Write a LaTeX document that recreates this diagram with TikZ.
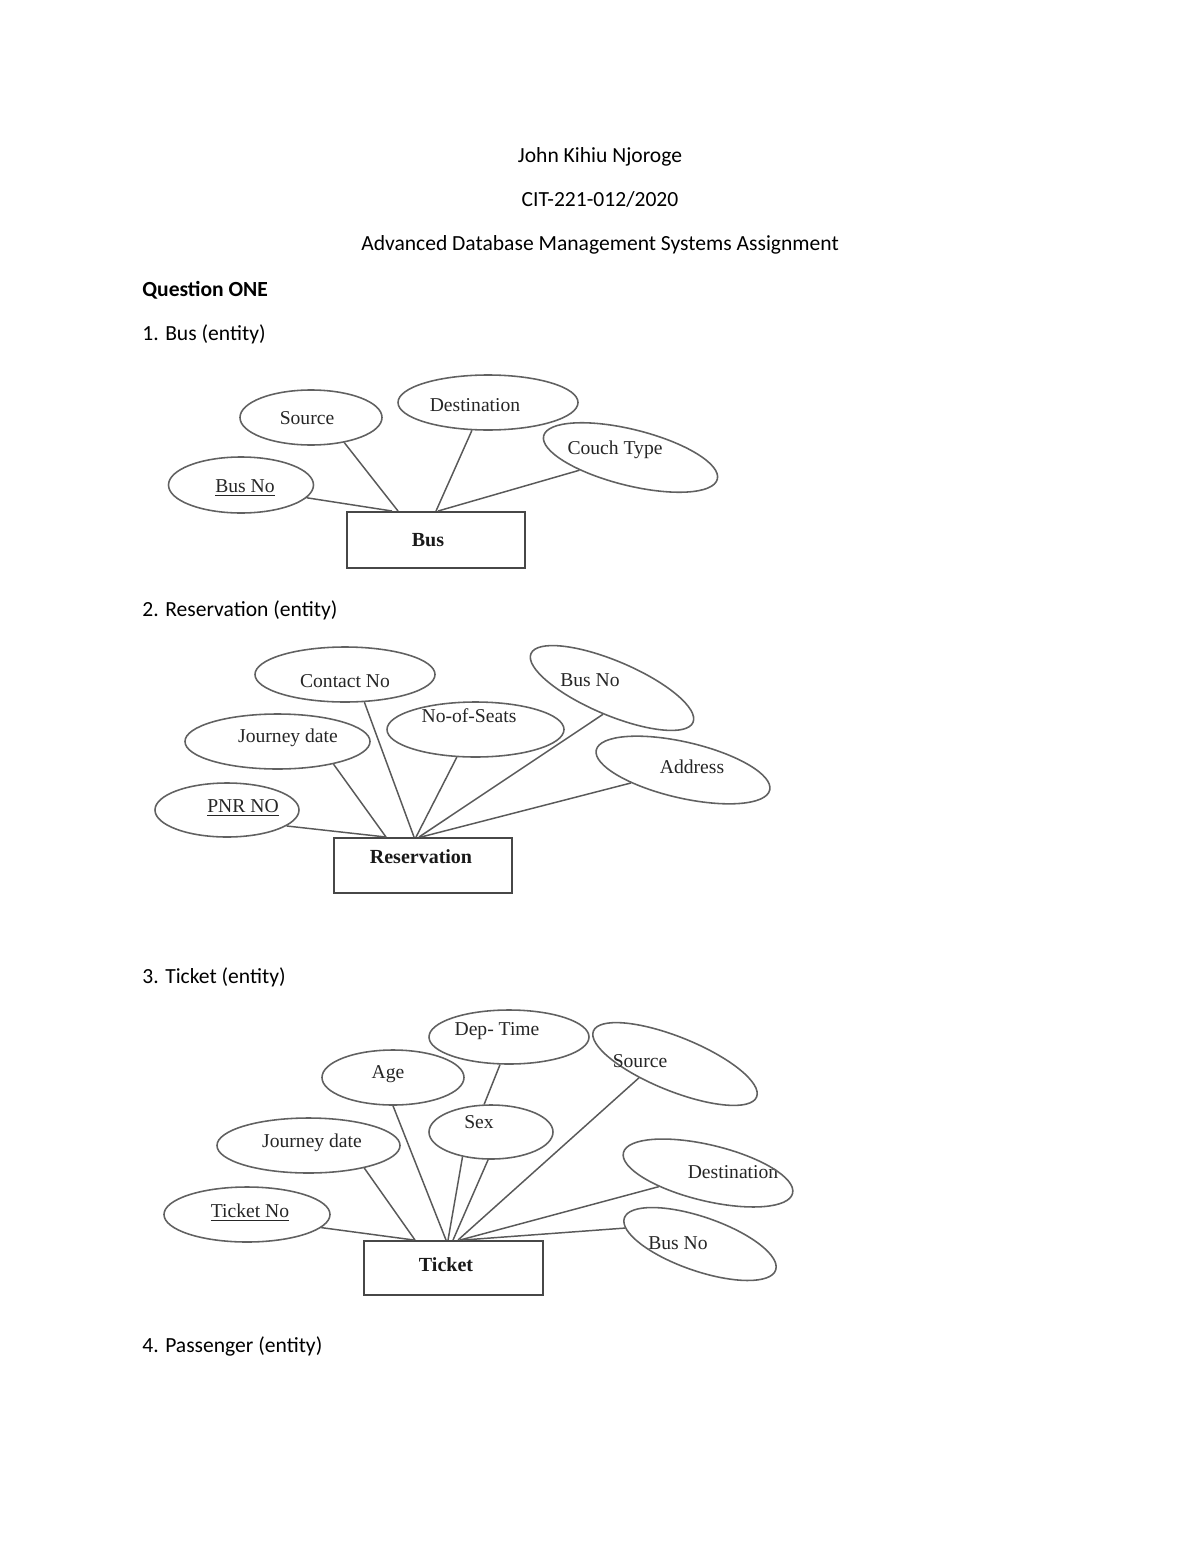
\documentclass[tikz,border=0pt]{standalone}
\usepackage{fontspec}
\setmainfont{Carlito}
\newfontfamily\erfont{Liberation Serif}
\usetikzlibrary{shapes.geometric,calc}
\tikzset{
  attr/.style n args={3}{ellipse, draw=black!62, line width=0.8pt, inner sep=0pt,
    minimum width={2*#1*0.51pt}, minimum height={2*#2*0.51pt}, rotate=#3},
  ent/.style n args={2}{rectangle, draw=black!72, line width=1pt, inner sep=0pt,
    minimum width={#1*0.51pt}, minimum height={#2*0.51pt}},
  lbl/.style={font=\erfont\fontsize{10}{12}\selectfont, text=black!85, inner sep=0pt},
  elbl/.style={font=\erfont\bfseries\fontsize{10.2}{12}\selectfont, text=black!90, inner sep=0pt},
  conn/.style={draw=black!65, line width=0.75pt},
  doc/.style={font=\fontsize{11}{13}\selectfont, inner sep=0pt, anchor=base},
  docl/.style={doc, anchor=base west}
}
\begin{document}
\begin{tikzpicture}[x=0.51pt, y=-0.51pt]
\fill[white] (0,0) rectangle (1200,1553);
\useasboundingbox (0,0) rectangle (1200,1553);

% header
\node[doc] (h1) at (600,163) {John Kihiu Njoroge};
\node[doc] (h2) at (600,207) {CIT-221-012/2020};
\node[doc] (h3) at (600,250) {Advanced Database Management Systems Assignment};
\node[docl] (q1) at (142,296) {\bfseries Question ONE};
\node[docl] (s1) at (142,340) {1. Bus (entity)};
\node[docl] (s2) at (142,616) {2. Reservation (entity)};
\node[docl] (s3) at (142,983) {3. Ticket (entity)};
\node[docl] (s4) at (142,1352) {4. Passenger (entity)};

% ---------- Bus ----------
\node[ent={178}{56}] (bus) at (436,540) {};
\node[elbl] (tbus) at (428,540) {Bus};
\node[attr={71}{27.5}{0}] (bsrc) at (311,417.5) {};
\node[lbl] (tbsrc) at (307,418) {Source};
\node[attr={90}{27.5}{0}] (bdst) at (488,402.5) {};
\node[lbl] (tbdst) at (475,405) {Destination};
\node[attr={89.5}{28}{-14}] (bcch) at (630.5,457.5) {};
\node[lbl] (tbcch) at (615,450) {Couch Type};
\node[attr={72.5}{28}{0}] (bbno) at (241,485) {};
\node[lbl] (tbbno) at (245,488) {\underline{Bus No}};
\draw[conn] (bbno.-11) -- ($(bus.north west)+(46,0)$);
\draw[conn] (bsrc.-37) -- ($(bus.north west)+(52,0)$);
\draw[conn] (bdst.-120) -- ($(bus.north west)+(90,0)$);
\draw[conn] (bcch.-152) -- ($(bus.north west)+(92,0)$);

% ---------- Reservation ----------
\node[ent={178}{55}] (res) at (423,865.5) {};
\node[elbl] (tres) at (421,857) {Reservation};
\node[attr={90}{27.5}{0}] (rcon) at (345,674.5) {};
\node[lbl] (trcon) at (345,681) {Contact No};
\node[attr={88}{27}{-23}] (rbno) at (612,688) {};
\node[lbl] (trbno) at (590,680) {Bus No};
\node[attr={88.5}{27.5}{0}] (rseat) at (475.5,729.5) {};
\node[lbl] (trseat) at (469,716) {No-of-Seats};
\node[attr={92.5}{27.5}{0}] (rjd) at (277.5,741.5) {};
\node[lbl] (trjd) at (288,738) {Journey date};
\node[attr={89}{28}{-13}] (radr) at (683,770) {};
\node[lbl] (tradr) at (692,767) {Address};
\node[attr={72}{27}{0}] (rpnr) at (227,810) {};
\node[lbl] (trpnr) at (243,808) {\underline{PNR NO}};
\draw[conn] (rpnr.-15) -- ($(res.north west)+(53,0)$);
\draw[conn] (rjd.-22) -- ($(res.north west)+(53,0)$);
\draw[conn] (rcon.-55) -- ($(res.north west)+(81,0)$);
\draw[conn] (rseat.-124) -- ($(res.north west)+(83,0)$);
\draw[conn] (rbno.-86.6) -- ($(res.north west)+(86,0)$);
\draw[conn] (radr.-153.5) -- ($(res.north west)+(88,0)$);

% ---------- Ticket ----------
\node[ent={179}{54}] (tkt) at (453.5,1268) {};
\node[elbl] (ttkt) at (446,1265) {Ticket};
\node[attr={80}{27}{0}] (tdep) at (509,1037) {};
\node[lbl] (ttdep) at (497,1031) {Dep- Time};
\node[attr={88}{27}{-22}] (tsrc) at (675,1064) {};
\node[lbl] (ttsrc) at (640,1061) {Source};
\node[attr={71}{27.5}{0}] (tage) at (393,1077.5) {};
\node[lbl] (ttage) at (388,1074) {Age};
\node[attr={62}{27}{0}] (tsex) at (491,1132) {};
\node[lbl] (ttsex) at (479,1122) {Sex};
\node[attr={91.5}{27.5}{0}] (tjd) at (308.5,1145.5) {};
\node[lbl] (ttjd) at (312,1143) {Journey date};
\node[lbl] (ttdst) at (733,1172) {Destination};
\node[attr={87}{28}{-13.5}] (tdst) at (708,1173) {};
\node[attr={83}{27.5}{0}] (ttno) at (247,1214.5) {};
\node[lbl] (tttno) at (250,1213) {\underline{Ticket No}};
\node[attr={80}{27}{-19}] (tbno) at (700,1244) {};
\node[lbl] (ttbno) at (678,1243) {Bus No};
\draw[conn] (tdep.-108) -- (tsex.104);
\draw[conn] (ttno.-10) -- ($(tkt.north west)+(51,0)$);
\draw[conn] (tjd.-22) -- ($(tkt.north west)+(52,0)$);
\draw[conn] (tage.-90) -- ($(tkt.north west)+(83,0)$);
\draw[conn] (tsex.-139) -- ($(tkt.north west)+(85,0)$);
\draw[conn] (tsex.-96) -- ($(tkt.north west)+(90,0)$);
\draw[conn] (tsrc.-137) -- ($(tkt.north west)+(95,0)$);
\draw[conn] (tdst.-151) -- ($(tkt.north west)+(97,0)$);
\draw[conn] (tbno.-173) -- ($(tkt.north west)+(100,0)$);
\end{tikzpicture}
\end{document}
